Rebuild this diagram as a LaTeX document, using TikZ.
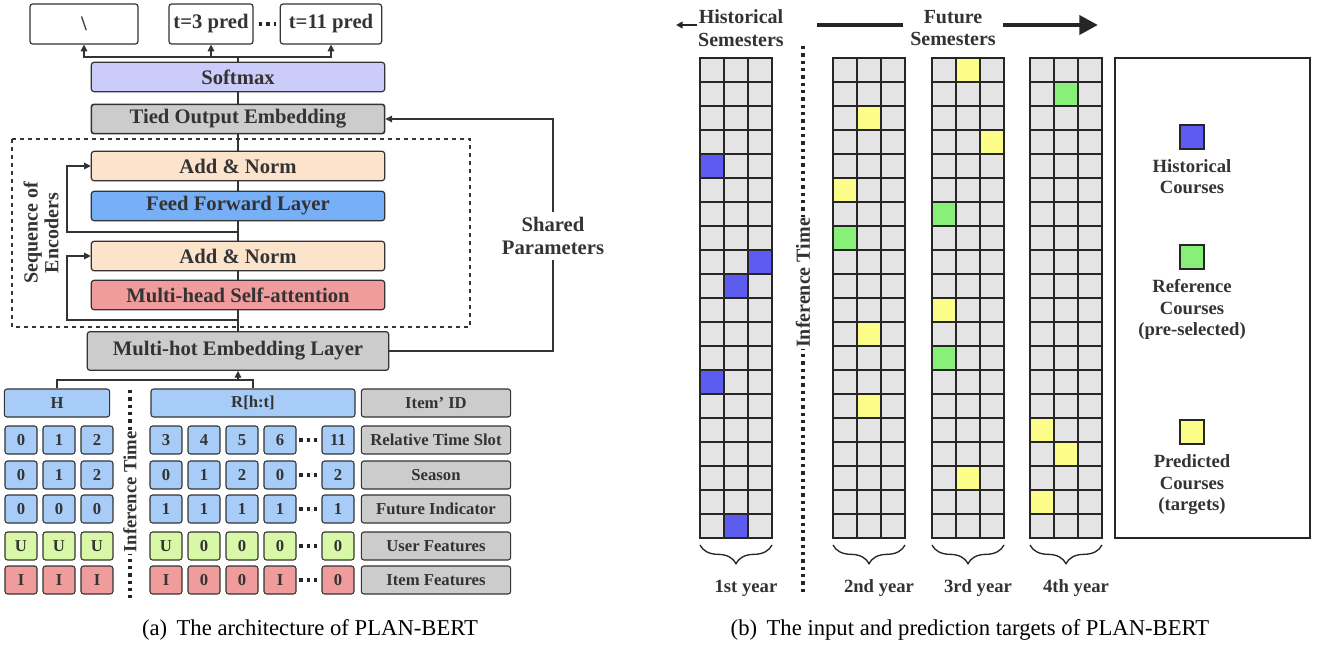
\documentclass[tikz,border=0pt]{standalone}
\usepackage{fontspec}
\setmainfont{Liberation Serif}
\usetikzlibrary{positioning, arrows.meta, decorations.pathreplacing}
\definecolor{lav}{HTML}{CCCCFA}
\definecolor{tan}{HTML}{FCE4CC}
\definecolor{ffblue}{HTML}{78B0F8}
\definecolor{red}{HTML}{F09C9C}
\definecolor{lblue}{HTML}{A8CCF8}
\definecolor{lgreen}{HTML}{D8F8A8}
\definecolor{lgray}{HTML}{CCCCCC}
\definecolor{cell}{HTML}{E4E4E4}
\definecolor{hist}{HTML}{5C5CF0}
\definecolor{refc}{HTML}{88F078}
\definecolor{pred}{HTML}{FCFC88}
\tikzset{
  blk/.style={draw=black!80, rounded corners=2pt, line width=0.9pt, minimum height=22pt, font=\fontsize{15.5}{17}\selectfont\bfseries, text=black!80},
  tab/.style={draw=black!80, rounded corners=2pt, line width=0.8pt, minimum height=21pt, font=\fontsize{12.5}{14}\selectfont\bfseries, text=black!80},
  sq/.style={draw=black!85, line width=1pt, minimum size=18pt, inner sep=0pt},
  lbl/.style={font=\fontsize{14}{16}\selectfont\bfseries, text=black!80, align=center},
  conn/.style={draw=black!80, line width=0.8pt},
  dots/.style={draw=black!85, line width=2.5pt, dash pattern=on 2.5pt off 3pt},
}
\begin{document}
\begin{tikzpicture}[x=0.75pt, y=-0.75pt, >={Triangle[length=5pt,width=5pt]}]
\useasboundingbox (0,0) rectangle (1325,646);
% ---- (a) architecture ----
\node[blk, minimum width=81pt, minimum height=30pt] (o1) at (84,24) {\textbackslash};
\node[blk, minimum width=54pt, minimum height=30pt] (o2) at (211,24) {t=3 pred};
\node[blk, minimum width=76pt, minimum height=30pt] (o3) at (331,24) {t=11 pred};
\draw[dots] ([xshift=4pt]o2.east) -- ([xshift=-3pt]o3.west);
\node[blk, fill=lav, minimum width=220pt] (soft) at (238,77) {Softmax};
\node[blk, fill=lgray, minimum width=220pt, line width=1.2pt] (tied) at (238,119) {Tied Output Embedding};
\node[blk, fill=tan, minimum width=220pt] (an1) at (238,166) {Add \& Norm};
\node[blk, fill=ffblue, minimum width=220pt] (ff) at (238,206) {Feed Forward Layer};
\node[blk, fill=tan, minimum width=220pt] (an2) at (238,256) {Add \& Norm};
\node[blk, fill=red, minimum width=220pt] (mha) at (238,295) {Multi-head Self-attention};
\node[blk, fill=lgray, minimum width=226pt, minimum height=29pt] (mh) at (238,351) {Multi-hot Embedding Layer};
\draw[conn, dashed] (12,139) rectangle (470,327);
\node[lbl, rotate=90, font=\fontsize{15}{15.5}\selectfont\bfseries] (seq) at (41,233) {Sequence of\\Encoders};
% connectors
\coordinate (t) at (238,57);
\draw[conn] (soft.north) -- (t);
\draw[conn, ->] (t) -| (o1.south);
\draw[conn, ->] (t) -| (o2.south);
\draw[conn, ->] (t) -| (o3.south);
\draw[conn] (tied) -- (soft);
\draw[conn] (mh) -- (mha) (mha) -- (an2) (an2) -- (ff) (ff) -- (an1) (an1) -- (tied);
\coordinate (r1) at (238,232);
\coordinate (r2) at (238,320);
\draw[conn, ->] (r1) -| (67,166) -- (an1.west);
\draw[conn, ->] (r2) -| (67,256) -- (an2.west);
\node[lbl, font=\fontsize{15.5}{17.5}\selectfont\bfseries] (sp) at (553,236) {Shared\\Parameters};
\draw[conn] (mh.east) -| (sp.south);
\draw[conn, ->] (sp.north) |- (tied.east);
% inputs
\node[tab, fill=lblue, minimum width=79pt] (H) at (57,403) {H};
\node[tab, fill=lblue, minimum width=153pt] (R) at (253,403) {R[h:t]};
\node[tab, fill=lgray, minimum width=112pt] (id) at (436,403) {Item' ID};
\draw[conn] (H.north) |- (253,380) -- (R.north);
\draw[conn, ->] (238,380) -- (mh.south);
\foreach \row/\y/\col/\lab/\vals in {
  1/440/lblue/Relative Time Slot/{0,1,2,3,4,5,6,11},
  2/475/lblue/Season/{0,1,2,0,1,2,0,2},
  3/509/lblue/Future Indicator/{0,0,0,1,1,1,1,1},
  4/546/lgreen/User Features/{U,U,U,U,0,0,0,0},
  5/580/red/Item Features/{I,I,I,I,0,0,I,0}} {
  \node[tab, fill=lgray, minimum width=112pt] (lab\row) at (436,\y) {\lab};
  \foreach \v [count=\i] in \vals {
    \pgfmathsetmacro{\cx}{\i<4 ? 21+(\i-1)*38 : (\i<8 ? 166+(\i-4)*38 : 338)}
    \node[tab, fill=\col, minimum width=24pt, minimum height=21pt] (c\row-\i) at (\cx,\y) {\v};
  }
  \draw[dots] ([xshift=2pt]c\row-7.east) -- ([xshift=-2pt]c\row-8.west);
}
\coordinate (it1) at (130,390);
\coordinate (it2) at (130,598);
\draw[dots] (it1) -- (it2);
\node[lbl, rotate=90, fill=white, inner sep=1pt, font=\fontsize{14}{16}\selectfont\bfseries] (itl) at (130,492) {Inference Time};
\node[font=\fontsize{17}{19}\selectfont] (capa) at (310,630) {(a)\, The architecture of PLAN-BERT};
% ---- (b) targets ----
\foreach \g/\gx/\yr/\cells in {
  1/700/1st year/{4/0/hist,8/2/hist,9/1/hist,13/0/hist,19/1/hist},
  2/833/2nd year/{2/1/pred,5/0/pred,7/0/refc,11/1/pred,14/1/pred},
  3/932/3rd year/{0/1/pred,3/2/pred,6/0/refc,10/0/pred,12/0/refc,17/1/pred},
  4/1030/4th year/{1/1/refc,15/0/pred,16/1/pred,18/0/pred}} {
  \fill[cell] (\gx,58) rectangle ++(72,480);
  \foreach \r/\c/\cc in \cells
    \fill[\cc] (\gx+\c*24,58+\r*24) rectangle ++(24,24);
  \foreach \k in {1,...,19}
    \draw[black!85, line width=1.2pt] (\gx,58+\k*24) -- ++(72,0);
  \foreach \k in {1,2}
    \draw[black!85, line width=1.2pt] (\gx+\k*24,58) -- ++(0,480);
  \draw[black!85, line width=1.2pt] (\gx,58) rectangle ++(72,480);
  \draw[black!85, line width=1pt, decorate, decoration={brace, mirror, amplitude=14pt}] (\gx,545) -- ++(72,0);
  \node[lbl] (yr\g) at (\gx+36+10,588) {\yr};
}
\draw[black!85, line width=1pt] (1115,58) rectangle (1310,538);
\node[sq, fill=hist] (kh) at (1192,137) {};
\node[lbl, below=4pt of kh] (kht) {Historical\\Courses};
\node[sq, fill=refc] (kr) at (1192,257) {};
\node[lbl, below=4pt of kr] (krt) {Reference\\Courses\\(pre-selected)};
\node[sq, fill=pred] (kp) at (1192,432) {};
\node[lbl, below=4pt of kp] (kpt) {Predicted\\Courses\\(targets)};
\coordinate (iv1) at (803,46);
\coordinate (iv2) at (803,592);
\draw[dots] (iv1) -- (iv2);
\node[lbl, rotate=90, fill=white, inner sep=1pt, font=\fontsize{15}{17}\selectfont\bfseries] (ivt) at (803,283) {Inference Time};
\node[lbl, font=\fontsize{15}{17}\selectfont\bfseries] (hs) at (741,28) {Historical\\Semesters};
\node[lbl, font=\fontsize{15}{17}\selectfont\bfseries] (fs) at (953,28) {Future\\Semesters};
\coordinate (ha) at (676,25);
\draw[black!85, line width=1.5pt, ->] (hs.north west |- ha) ++(3,0) -- (ha);
\coordinate (fa1) at (817,25);
\coordinate (fa2) at (1098,25);
\draw[black!85, line width=3.5pt] (fa1) -- (903,25);
\draw[black!85, line width=3.5pt, -{Triangle[length=14pt,width=14pt]}] (1003,25) -- (fa2);
\node[font=\fontsize{17}{19}\selectfont] (capb) at (970,630) {(b)\, The input and prediction targets of PLAN-BERT};
\end{tikzpicture}
\end{document}
